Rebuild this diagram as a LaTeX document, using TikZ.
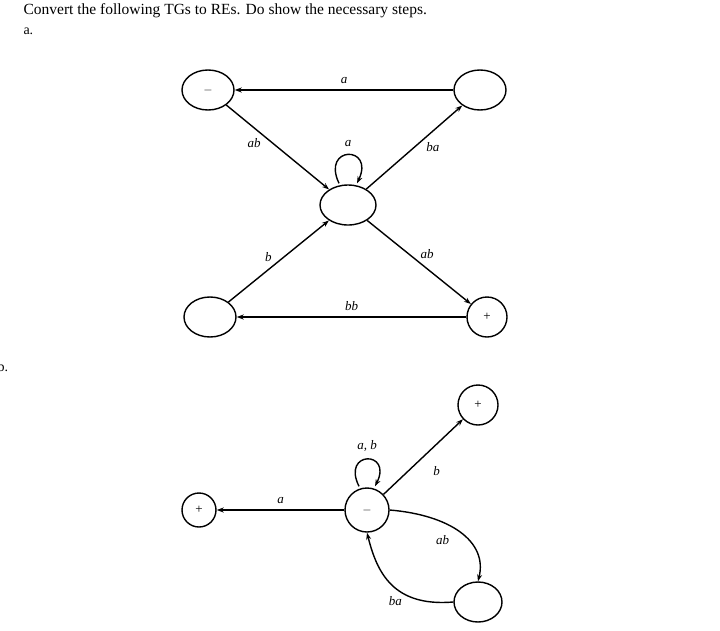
\documentclass[tikz,border=0pt]{standalone}
\usepackage{fontspec}
\setmainfont{Liberation Serif}
\usetikzlibrary{shapes.geometric,arrows.meta}
\begin{document}
\begin{tikzpicture}[x=1pt,y=-1pt,
  st/.style={draw,line width=1.4pt,ellipse,minimum width=#1*2pt,minimum height=40pt,inner sep=0pt,font=\fontsize{13}{15}\selectfont},
  sc/.style={draw,line width=1.4pt,circle,minimum size=#1*2pt,inner sep=0pt,font=\fontsize{13}{15}\selectfont},
  ed/.style={line width=1.4pt,-{Stealth[length=7pt,width=5pt]}},
  lb/.style={font=\fontsize{13}{15}\selectfont\itshape}]
\useasboundingbox (0,0) rectangle (720,630);
\node[anchor=west,font=\fontsize{15.5}{18}\selectfont] (t) at (20,11) {Convert the following TGs to REs. Do show the necessary steps.};
\node[anchor=west,font=\fontsize{14}{16}\selectfont] (la) at (20,31) {a.};
\node[anchor=west,font=\fontsize{14}{16}\selectfont] (lb2) at (-6,367) {b.};
% graph a
\node[st=26] (tl) at (208,90) {$-$};
\node[st=26] (tr) at (480,90) {};
\node[st=28] (c) at (348,205) {};
\node[st=26] (bl) at (210,317) {};
\node[sc=20] (br) at (487,317) {+};
\draw[ed] (tr) -- node[lb,above=2pt]{a} (tl);
\draw[ed] (tl) -- node[lb,left=8pt,pos=0.45]{ab} (c);
\draw[ed] (c) -- node[lb,right=8pt,pos=0.5]{ba} (tr);
\draw[ed] (bl) -- node[lb,left=8pt,pos=0.55]{b} (c);
\draw[ed] (c) -- node[lb,right=8pt,pos=0.4]{ab} (br);
\draw[ed] (br) -- node[lb,above=2pt]{bb} (bl);
\draw[ed] ([xshift=-9pt,yshift=1pt]c.north) .. controls +(-18,-38) and +(18,-38) .. ([xshift=9pt,yshift=1pt]c.north) node[lb,pos=0.5,above=4pt]{a};
% graph b
\node[sc=17] (pl) at (199,510) {+};
\node[sc=22] (m) at (367,510) {$-$};
\node[sc=20] (pt) at (478,405) {+};
\node[st=24] (q) at (478,602) {};
\draw[ed] (m) -- node[lb,above=2pt]{a} (pl);
\draw[ed] (m) -- node[lb,below right=6pt,pos=0.5]{b} (pt);
\draw[ed] ([xshift=-8pt,yshift=1pt]m.north) .. controls +(-18,-36) and +(18,-36) .. ([xshift=8pt,yshift=1pt]m.north) node[lb,pos=0.5,above=4pt]{a, b};
\draw[ed] (m.east) .. controls +(60,5) and +(10,-40) .. node[lb,pos=0.45,below left=2pt]{ab} (q.north);
\draw[ed] (q.west) .. controls +(-60,5) and +(10,40) .. node[lb,pos=0.45,below=4pt]{ba} (m.south);
\end{tikzpicture}
\end{document}
